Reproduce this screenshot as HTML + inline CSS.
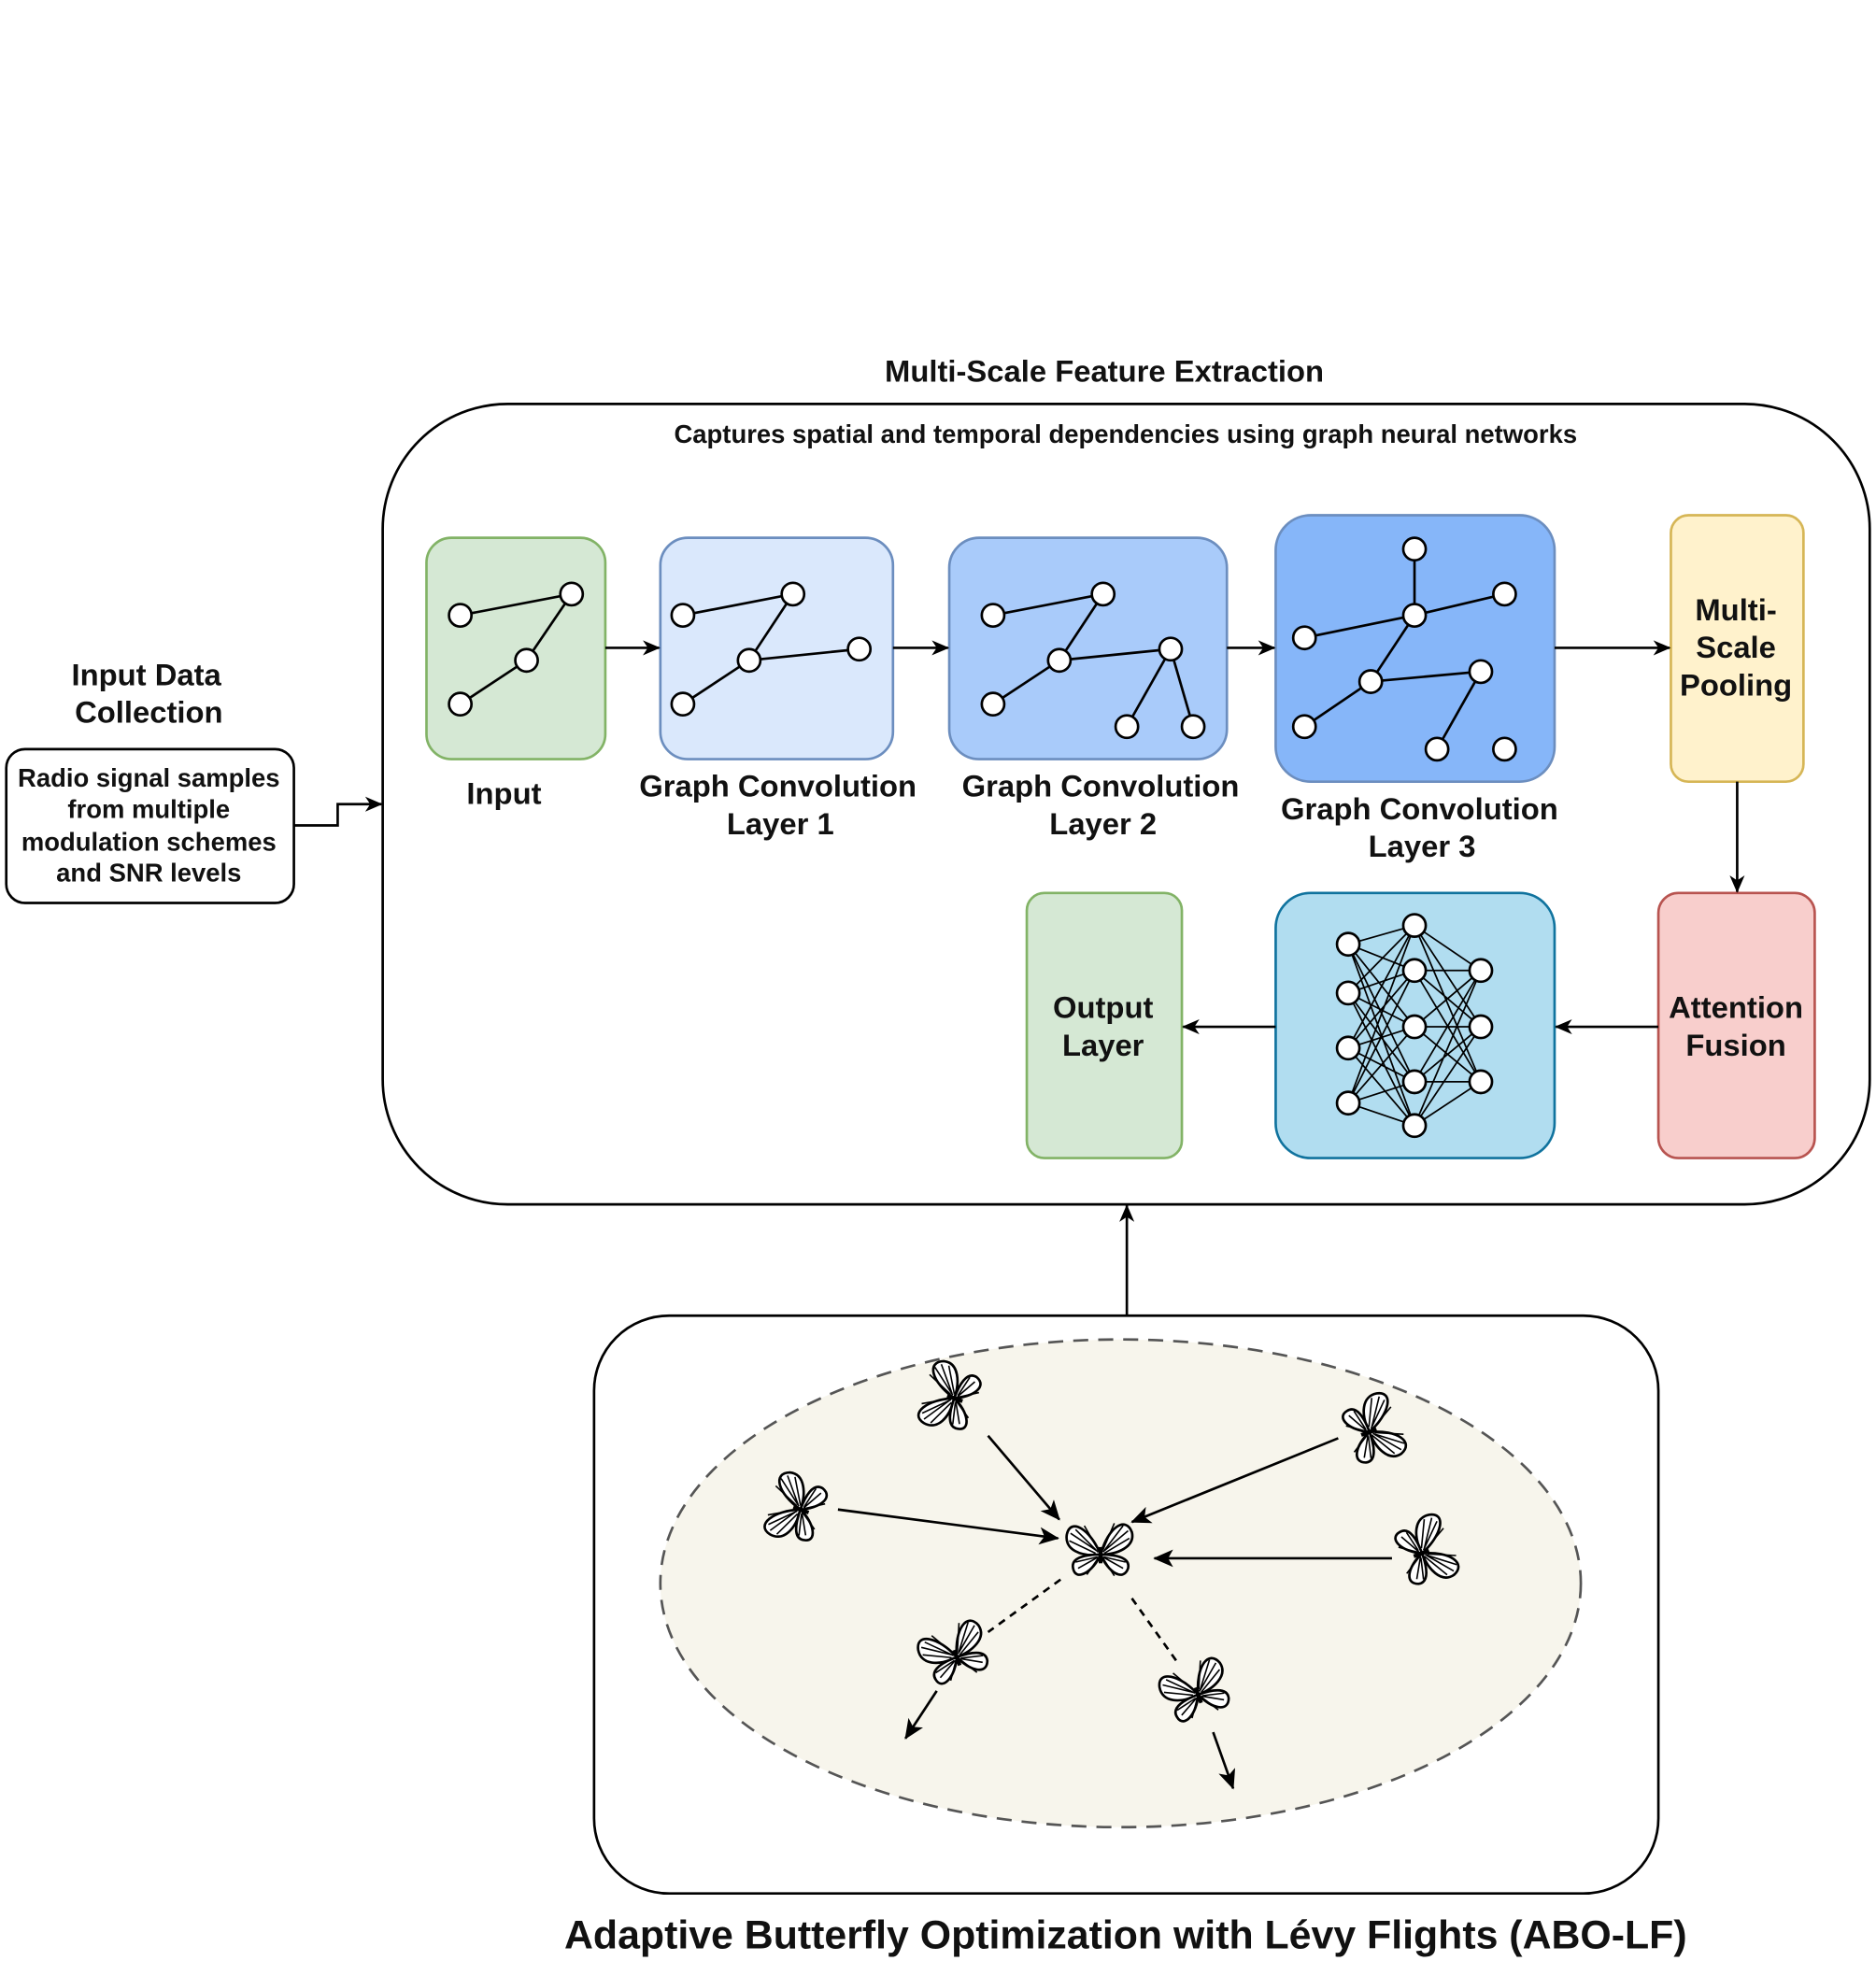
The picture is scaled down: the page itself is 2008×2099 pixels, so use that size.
<!DOCTYPE html>
<html><head><meta charset="utf-8"><style>
html,body{margin:0;padding:0;background:#fff}
svg{display:block}
text{font-family:"Liberation Sans",sans-serif;font-weight:bold;fill:#111}
</style></head><body>
<svg width="2008" height="2099" viewBox="0 0 1500 1568" preserveAspectRatio="none" xmlns="http://www.w3.org/2000/svg">
<defs>
<marker id="ah" markerWidth="14" markerHeight="12" refX="13" refY="6" orient="auto" markerUnits="userSpaceOnUse"><path d="M0,0 L14,6 L0,12 L4,6 z" fill="#000"/></marker>
<marker id="ah2" markerWidth="16" markerHeight="14" refX="15" refY="7" orient="auto" markerUnits="userSpaceOnUse"><path d="M0,0 L16,7 L0,14 L4,7 z" fill="#000"/></marker>
<g id="bf">
<path d="M0,0 C-8,-20 -24,-30 -27,-16 C-29,-4 -16,2 0,0 z" fill="#fff" stroke="#000" stroke-width="2"/>
<path d="M0,0 C-6,14 -20,22 -22,11 C-24,2 -11,0 0,0 z" fill="#fff" stroke="#000" stroke-width="2"/>
<path d="M0,0 C6,-22 20,-31 25,-18 C28,-6 13,0 0,0 z" fill="#fff" stroke="#000" stroke-width="2"/>
<path d="M0,0 C6,14 18,22 22,11 C24,2 11,0 0,0 z" fill="#fff" stroke="#000" stroke-width="2"/>
<path d="M-2,-2 L-20,-20 M-4,-1 L-25,-11 M-2,-4 L-13,-23 M-3,-3 L-24,-17 M2,-2 L18,-23 M3,-1 L23,-13 M2,-4 L11,-25 M3,-3 L22,-19 M-2,2 L-18,11 M-2,3 L-11,16 M-3,2 L-20,6 M2,2 L18,11 M2,3 L11,17 M3,2 L20,6" stroke="#000" stroke-width="1.2"/>
<line x1="0" y1="-6" x2="0" y2="7" stroke="#000" stroke-width="3"/>
</g>
</defs>

<text x="883" y="305" font-size="24.5" text-anchor="middle">Multi-Scale Feature Extraction</text>
<rect x="306" y="323" width="1189" height="640" rx="100" fill="#fff" stroke="#000" stroke-width="2"/>
<text x="900" y="354" font-size="20.5" text-anchor="middle">Captures spatial and temporal dependencies using graph neural networks</text>

<rect x="341" y="430" width="143" height="177" rx="20" fill="#d5e8d4" stroke="#82b366" stroke-width="2"/>
<rect x="528" y="430" width="186" height="177" rx="22" fill="#dae8fc" stroke="#6c8ebf" stroke-width="2"/>
<rect x="759" y="430" width="222" height="177" rx="24" fill="#a9cbfa" stroke="#6c8ebf" stroke-width="2"/>
<rect x="1020" y="412" width="223" height="213" rx="28" fill="#86b6f9" stroke="#6c8ebf" stroke-width="2"/>
<rect x="1336" y="412" width="106" height="213" rx="14" fill="#fff2cc" stroke="#d6b656" stroke-width="2"/>
<rect x="1326" y="714" width="125" height="212" rx="16" fill="#f8cecc" stroke="#b85450" stroke-width="2"/>
<rect x="1020" y="714" width="223" height="212" rx="28" fill="#b1ddf0" stroke="#10739e" stroke-width="2"/>
<rect x="821" y="714" width="124" height="212" rx="14" fill="#d5e8d4" stroke="#82b366" stroke-width="2"/>

<g stroke="#000" stroke-width="2">
<line x1="368" y1="492" x2="457" y2="475"/><line x1="457" y1="475" x2="421" y2="528"/><line x1="421" y1="528" x2="368" y2="563"/>
<line x1="546" y1="492" x2="634" y2="475"/><line x1="634" y1="475" x2="599" y2="528"/><line x1="599" y1="528" x2="687" y2="519"/><line x1="599" y1="528" x2="546" y2="563"/>
<line x1="794" y1="492" x2="882" y2="475"/><line x1="882" y1="475" x2="847" y2="528"/><line x1="847" y1="528" x2="936" y2="519"/><line x1="847" y1="528" x2="794" y2="563"/><line x1="936" y1="519" x2="901" y2="581"/><line x1="936" y1="519" x2="954" y2="581"/>
<line x1="1131" y1="439" x2="1131" y2="492"/><line x1="1131" y1="492" x2="1203" y2="475"/><line x1="1131" y1="492" x2="1043" y2="510"/><line x1="1131" y1="492" x2="1096" y2="545"/><line x1="1096" y1="545" x2="1184" y2="537"/><line x1="1096" y1="545" x2="1043" y2="581"/><line x1="1184" y1="537" x2="1149" y2="599"/>
</g>
<g stroke="#000" stroke-width="1.3">
<path d="M1078,755 L1131,740 M1078,755 L1131,776 M1078,755 L1131,821 M1078,755 L1131,865 M1078,755 L1131,900
M1078,794 L1131,740 M1078,794 L1131,776 M1078,794 L1131,821 M1078,794 L1131,865 M1078,794 L1131,900
M1078,838 L1131,740 M1078,838 L1131,776 M1078,838 L1131,821 M1078,838 L1131,865 M1078,838 L1131,900
M1078,882 L1131,740 M1078,882 L1131,776 M1078,882 L1131,821 M1078,882 L1131,865 M1078,882 L1131,900
M1131,740 L1184,776 M1131,740 L1184,821 M1131,740 L1184,865
M1131,776 L1184,776 M1131,776 L1184,821 M1131,776 L1184,865
M1131,821 L1184,776 M1131,821 L1184,821 M1131,821 L1184,865
M1131,865 L1184,776 M1131,865 L1184,821 M1131,865 L1184,865
M1131,900 L1184,776 M1131,900 L1184,821 M1131,900 L1184,865"/>
</g>
<g fill="#fff" stroke="#000" stroke-width="2">
<circle cx="368" cy="492" r="9"/><circle cx="457" cy="475" r="9"/><circle cx="421" cy="528" r="9"/><circle cx="368" cy="563" r="9"/>
<circle cx="546" cy="492" r="9"/><circle cx="634" cy="475" r="9"/><circle cx="599" cy="528" r="9"/><circle cx="687" cy="519" r="9"/><circle cx="546" cy="563" r="9"/>
<circle cx="794" cy="492" r="9"/><circle cx="882" cy="475" r="9"/><circle cx="847" cy="528" r="9"/><circle cx="936" cy="519" r="9"/><circle cx="794" cy="563" r="9"/><circle cx="901" cy="581" r="9"/><circle cx="954" cy="581" r="9"/>
<circle cx="1131" cy="439" r="9"/><circle cx="1131" cy="492" r="9"/><circle cx="1203" cy="475" r="9"/><circle cx="1043" cy="510" r="9"/><circle cx="1096" cy="545" r="9"/><circle cx="1184" cy="537" r="9"/><circle cx="1043" cy="581" r="9"/><circle cx="1149" cy="599" r="9"/><circle cx="1203" cy="599" r="9"/>
<circle cx="1078" cy="755" r="9"/><circle cx="1078" cy="794" r="9"/><circle cx="1078" cy="838" r="9"/><circle cx="1078" cy="882" r="9"/>
<circle cx="1131" cy="740" r="9"/><circle cx="1131" cy="776" r="9"/><circle cx="1131" cy="821" r="9"/><circle cx="1131" cy="865" r="9"/><circle cx="1131" cy="900" r="9"/>
<circle cx="1184" cy="776" r="9"/><circle cx="1184" cy="821" r="9"/><circle cx="1184" cy="865" r="9"/>
</g>

<g font-size="24.5" text-anchor="middle">
<text x="403" y="643">Input</text>
<text x="622" y="637">Graph Convolution</text><text x="624" y="667">Layer 1</text>
<text x="880" y="637">Graph Convolution</text><text x="882" y="667">Layer 2</text>
<text x="1135" y="655">Graph Convolution</text><text x="1137" y="685">Layer 3</text>
<text x="1388" y="496">Multi-</text><text x="1388" y="526">Scale</text><text x="1388" y="556">Pooling</text>
<text x="1388" y="814">Attention</text><text x="1388" y="844">Fusion</text>
<text x="882" y="814">Output</text><text x="882" y="844">Layer</text>
<text x="117" y="548">Input Data</text><text x="119" y="578">Collection</text>
</g>

<g stroke="#000" stroke-width="2" fill="none" marker-end="url(#ah)">
<line x1="484" y1="518" x2="527" y2="518"/>
<line x1="714" y1="518" x2="758" y2="518"/>
<line x1="981" y1="518" x2="1019" y2="518"/>
<line x1="1243" y1="518" x2="1335" y2="518"/>
<line x1="1389" y1="625" x2="1389" y2="713"/>
<line x1="1326" y1="821" x2="1244" y2="821"/>
<line x1="1020" y1="821" x2="946" y2="821"/>
<path d="M235,660 L270,660 L270,643 L305,643"/>
<line x1="901" y1="1052" x2="901" y2="964"/>
</g>

<rect x="5" y="599" width="230" height="123" rx="15" fill="#fff" stroke="#000" stroke-width="2"/>
<g font-size="20.5" text-anchor="middle">
<text x="119" y="629">Radio signal samples</text><text x="119" y="654">from multiple</text><text x="119" y="680">modulation schemes</text><text x="119" y="705">and SNR levels</text>
</g>

<rect x="475" y="1052" width="851" height="462" rx="60" fill="#fff" stroke="#000" stroke-width="2"/>
<ellipse cx="896" cy="1266" rx="368" ry="195" fill="#f7f5ec" stroke="#555" stroke-width="2" stroke-dasharray="12,8"/>

<g stroke="#000" stroke-width="2" fill="none" marker-end="url(#ah2)">
<line x1="790" y1="1148" x2="847" y2="1215"/>
<line x1="1070" y1="1150" x2="905" y2="1217"/>
<line x1="670" y1="1207" x2="846" y2="1230"/>
<line x1="1113" y1="1246" x2="923" y2="1246"/>
<line x1="749" y1="1352" x2="724" y2="1390"/>
<line x1="970" y1="1385" x2="986" y2="1430"/>
</g>
<g stroke="#000" stroke-width="2" stroke-dasharray="6,5">
<line x1="848" y1="1263" x2="790" y2="1305"/>
<line x1="905" y1="1278" x2="942" y2="1330"/>
</g>

<use href="#bf" transform="translate(763,1118) rotate(-70)"/>
<use href="#bf" transform="translate(1095,1145) rotate(70)"/>
<use href="#bf" transform="translate(640,1207) rotate(-70)"/>
<use href="#bf" transform="translate(880,1243)"/>
<use href="#bf" transform="translate(1137,1242) rotate(70)"/>
<use href="#bf" transform="translate(765,1325) rotate(-20)"/>
<use href="#bf" transform="translate(958,1355) rotate(-20)"/>

<text x="900" y="1558" font-size="32" text-anchor="middle">Adaptive Butterfly Optimization with Lévy Flights (ABO-LF)</text>
</svg>
</body></html>
